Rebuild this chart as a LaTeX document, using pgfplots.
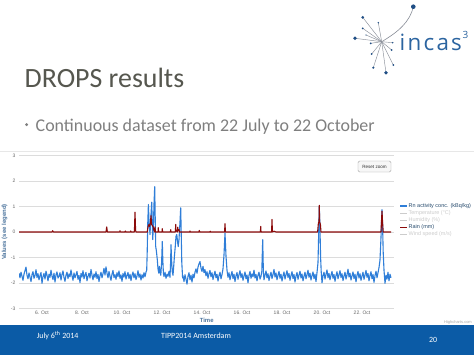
\documentclass[border=0pt]{standalone}
\usepackage{fontspec}
\setmainfont{Carlito}
\newfontfamily\chartfont{Liberation Sans}
\newfontfamily\logofont[LetterSpace=10]{Open Sans}
\newfontfamily\logofontb{Open Sans}
\usepackage{pgfplots}
\pgfplotsset{compat=1.18}
\definecolor{hcblue}{HTML}{2F7ED8}
\definecolor{hcred}{HTML}{8B0A0A}
\definecolor{gridc}{HTML}{DCDCDC}
\definecolor{tickc}{HTML}{666666}
\definecolor{axtitle}{HTML}{4D759E}
\definecolor{legact}{HTML}{274B6D}
\definecolor{leghid}{HTML}{CCCCCC}
\definecolor{titlec}{HTML}{56574F}
\definecolor{bulletc}{HTML}{7F7F7F}
\definecolor{footc}{HTML}{0B5BA6}
\definecolor{logoc}{HTML}{2B64A0}
\definecolor{logodot}{HTML}{1F4E85}
\definecolor{logoline}{HTML}{8A8F99}
\begin{document}
\begin{tikzpicture}
\useasboundingbox (0,0) rectangle (474bp,-355bp);
\clip (0,0) rectangle (474bp,-355bp);
\begin{scope}[x=1bp,y=-1bp]
\fill[white] (0,0) rectangle (474,355);
% title and bullet
\node[anchor=base west, inner sep=0pt, text=titlec, font=\fontsize{28}{32}\selectfont] at (24.5,87.3) {DROPS results};
\fill[bulletc] (26.6,124.6) circle (1.6);
\node[anchor=base west, inner sep=0pt, text=bulletc, font=\fontsize{18}{22}\selectfont] at (35.5,131) {Continuous dataset from 22 July to 22 October};
% logo
\foreach \px/\py in {362.7/17.3,378.3/22.7,362.7/28.3,355/38.3,370.7/43.3,392.7/42.7,391.7/50,371.7/54,373.3/67.7,386/72.7,393.3/65,366/35}
  \draw[logoline, line width=0.45bp] (381.7,41.7) -- (\px,\py);
\draw[logoline, line width=0.6bp] (381.7,41.7) .. controls (398,32) and (410,22) .. (413.3,6.7);
\fill[logodot] (413.3,6.7) circle (2.3);
\fill[logodot] (362.7,17.3) circle (1.5);
\fill[logodot] (378.3,22.7) circle (0.8);
\fill[logodot] (362.7,28.3) circle (1.0);
\fill[logodot] (355,38.3) circle (1.9);
\fill[logodot] (370.7,43.3) circle (1.0);
\fill[logodot] (392.7,42.7) circle (0.8);
\fill[logodot] (391.7,50) circle (1.0);
\fill[logodot] (371.7,54) circle (1.0);
\fill[logodot] (373.3,67.7) circle (1.2);
\fill[logodot] (386,72.7) circle (1.9);
\fill[logodot] (393.3,65) circle (1.0);
\fill[logodot] (366,35) circle (0.7);
\node[anchor=base west, inner sep=0pt, text=logoc, font=\logofont\fontsize{22.5}{24}\selectfont] at (399.5,50.7) {incas};
\node[anchor=base west, inner sep=0pt, text=logoc, font=\logofontb\fontsize{10}{12}\selectfont] at (462.5,38) {3};
% chart container line
\draw[gridc!70, line width=0.5bp] (0,151.7) -- (474,151.7);
% reset zoom button
\draw[rounded corners=1.5bp, fill=black!3, draw=black!35, line width=0.4bp] (358,161) rectangle (391,172);
\node[inner sep=0pt, text=black!80, font=\chartfont\fontsize{4.6}{5}\selectfont] at (374.5,166.6) {Reset zoom};
% axis titles
\node[rotate=90, inner sep=0pt, text=axtitle, font=\chartfont\bfseries\fontsize{6}{7}\selectfont] at (4.5,232) {Values (see legend)};
\node[inner sep=0pt, text=axtitle, font=\chartfont\bfseries\fontsize{6}{7}\selectfont] at (206.7,320.7) {Time};
% legend
\draw[hcblue, line width=1.2bp] (400,206) -- (406.5,206);
\node[anchor=west, inner sep=0pt, text=legact, font=\chartfont\fontsize{5.5}{6}\selectfont] at (408.5,206) {Rn activity conc. (kBq/kg)};
\draw[leghid, line width=1.2bp] (400,213.1) -- (406.5,213.1);
\node[anchor=west, inner sep=0pt, text=leghid, font=\chartfont\fontsize{5.5}{6}\selectfont] at (408.5,213.1) {Temperature (°C)};
\draw[leghid, line width=1.2bp] (400,220.2) -- (406.5,220.2);
\node[anchor=west, inner sep=0pt, text=leghid, font=\chartfont\fontsize{5.5}{6}\selectfont] at (408.5,220.2) {Humidity (\%)};
\draw[hcred, line width=1.2bp] (400,227.3) -- (406.5,227.3);
\node[anchor=west, inner sep=0pt, text=legact, font=\chartfont\fontsize{5.5}{6}\selectfont] at (408.5,227.3) {Rain (mm)};
\draw[leghid, line width=1.2bp] (400,234.4) -- (406.5,234.4);
\node[anchor=west, inner sep=0pt, text=leghid, font=\chartfont\fontsize{5.5}{6}\selectfont] at (408.5,234.4) {Wind speed (m/s)};
% footer
\fill[footc] (0,325) rectangle (474,355);
\node[anchor=base east, inner sep=0pt, text=black!35, font=\chartfont\fontsize{4}{5}\selectfont] at (472,323.5) {Highcharts.com};
\node[anchor=base west, inner sep=0pt, text=white, font=\fontsize{8}{10}\selectfont] at (36.7,338) {July 6\textsuperscript{th} 2014};
\node[anchor=base west, inner sep=0pt, text=white, font=\fontsize{8}{10}\selectfont] at (161,338) {TIPP2014 Amsterdam};
\node[anchor=base west, inner sep=0pt, text=white, font=\fontsize{8}{10}\selectfont] at (429,342) {20};
\end{scope}
\begin{axis}[
  at={(19bp,-308.3bp)}, anchor=south west,
  scale only axis, width=375bp, height=152.6bp,
  xmin=4.85, xmax=23.6, ymin=-3, ymax=3,
  axis line style={draw=none},
  ymajorgrids, grid style={draw=gridc, line width=0.5bp},
  ytick={-3,-2,-1,0,1,2,3}, yticklabels={-3,-2,-1,0,1,2,3},
  xtick={6,8,10,12,14,16,18,20,22},
  xticklabels={6. Oct,8. Oct,10. Oct,12. Oct,14. Oct,16. Oct,18. Oct,20. Oct,22. Oct},
  major tick length=0pt,
  tick label style={font=\chartfont\fontsize{5}{6}\selectfont, text=tickc},
  yticklabel style={anchor=east, inner sep=0pt, xshift=-3.5bp},
  xticklabel style={anchor=north, inner sep=0pt, yshift=-2.3bp},
]
\addplot[color=hcblue, line width=1.1bp, line join=round, mark=none] coordinates {
(4.85,-1.62)(4.90,-1.80)(4.95,-1.58)(5.00,-1.74)(5.05,-1.90)(5.10,-1.66)(5.15,-1.52)(5.20,-1.38)(5.25,-1.70)(5.30,-1.84)
(5.35,-1.61)(5.40,-1.77)(5.45,-1.95)(5.50,-1.68)(5.55,-1.56)(5.60,-1.82)(5.65,-1.71)(5.70,-1.48)(5.75,-1.79)(5.80,-1.64)
(5.85,-1.88)(5.90,-1.72)(5.95,-1.59)(6.00,-2.02)(6.05,-1.75)(6.10,-1.63)(6.15,-1.85)(6.20,-1.54)(6.25,-1.70)(6.30,-1.92)
(6.35,-1.66)(6.40,-1.78)(6.45,-1.50)(6.50,-1.73)(6.55,-1.87)(6.60,-1.62)(6.65,-1.97)(6.70,-1.69)(6.75,-1.57)(6.80,-1.81)
(6.85,-1.74)(6.90,-1.60)(6.95,-1.89)(7.00,-1.67)(7.05,-1.53)(7.10,-1.79)(7.15,-1.94)(7.20,-1.70)(7.25,-1.58)(7.30,-1.83)
(7.35,-1.65)(7.40,-1.76)(7.45,-1.49)(7.50,-1.72)(7.55,-1.90)(7.60,-1.61)(7.65,-1.80)(7.70,-1.68)(7.75,-1.55)(7.80,-1.86)
(7.85,-1.71)(7.90,-1.99)(7.95,-1.63)(8.00,-1.77)(8.05,-1.52)(8.10,-1.84)(8.15,-1.69)(8.20,-1.59)(8.25,-1.92)(8.30,-1.74)
(8.35,-1.62)(8.40,-1.81)(8.45,-1.47)(8.50,-1.70)(8.55,-1.88)(8.60,-1.65)(8.65,-1.78)(8.70,-1.56)(8.75,-1.83)(8.80,-1.67)
(8.85,-1.95)(8.90,-1.72)(8.95,-1.58)(9.00,-1.80)(9.05,-1.64)(9.10,-1.43)(9.15,-1.69)(9.20,-1.37)(9.25,-1.62)(9.30,-1.80)
(9.35,-1.55)(9.40,-1.74)(9.45,-1.90)(9.50,-1.66)(9.55,-1.51)(9.60,-1.79)(9.65,-1.68)(9.70,-1.86)(9.75,-1.60)(9.80,-1.75)
(9.85,-1.53)(9.90,-1.82)(9.95,-1.69)(10.00,-1.94)(10.05,-1.63)(10.10,-1.77)(10.15,-1.56)(10.20,-1.85)(10.25,-1.71)(10.30,-1.59)
(10.35,-1.83)(10.40,-1.66)(10.45,-1.91)(10.50,-1.70)(10.55,-1.57)(10.60,-1.80)(10.65,-1.64)(10.70,-1.87)(10.75,-1.73)(10.80,-1.52)
(10.85,-1.78)(10.90,-1.65)(10.95,-1.89)(11.00,-1.68)(11.05,-1.81)(11.10,-1.60)(11.15,-1.76)(11.20,-1.58)
(11.235,-1.50)(11.26,-0.80)(11.29,0.40)(11.32,1.08)(11.35,0.45)(11.40,-0.10)(11.44,0.55)(11.485,1.17)(11.51,0.50)(11.535,-0.30)
(11.57,0.20)(11.60,1.10)(11.635,1.78)(11.66,0.60)(11.685,-0.57)(11.72,-0.75)(11.765,-1.09)(11.80,-1.45)(11.84,-1.62)(11.87,-1.35)
(11.90,-1.55)(11.94,-1.70)(11.98,-1.20)(12.015,-0.37)(12.04,-1.10)(12.07,-1.62)(12.10,-1.75)(12.15,-1.58)(12.20,-1.82)(12.25,-1.66)
(12.30,-1.74)(12.35,-1.55)(12.40,-1.78)(12.43,-1.20)(12.45,-0.50)(12.48,-1.10)(12.51,-1.55)(12.55,-1.70)(12.58,-1.40)(12.62,-0.96)
(12.66,-0.60)(12.70,-0.17)(12.74,-0.10)(12.78,-0.40)(12.81,-0.57)(12.85,-0.30)(12.90,0.40)(12.935,0.95)(12.96,0.00)(12.99,-1.20)
(13.03,-1.80)
(13.05,-1.72)(13.10,-1.95)(13.15,-1.68)(13.20,-1.85)(13.25,-2.05)(13.30,-1.74)(13.35,-1.60)(13.40,-1.88)(13.45,-1.70)(13.50,-1.97)
(13.55,-1.66)(13.60,-1.80)(13.65,-1.58)(13.70,-1.45)(13.75,-1.62)(13.80,-1.38)(13.85,-1.25)(13.90,-1.16)(13.95,-1.42)(14.00,-1.55)
(14.05,-1.35)(14.10,-1.60)(14.15,-1.48)(14.20,-1.72)(14.25,-1.56)(14.30,-1.82)(14.35,-1.64)(14.40,-1.51)(14.45,-1.76)(14.50,-1.60)
(14.55,-1.87)(14.60,-1.69)(14.65,-1.54)(14.70,-1.80)(14.75,-1.66)(14.80,-1.93)(14.85,-1.71)(14.90,-1.58)(14.95,-1.84)(15.00,-1.67)
(15.05,-1.45)(15.10,-0.90)(15.15,-0.04)(15.20,-0.95)(15.25,-1.50)(15.30,-1.78)(15.35,-1.60)(15.40,-1.88)(15.45,-1.70)(15.50,-1.55)
(15.55,-1.83)(15.60,-1.66)(15.65,-1.95)(15.70,-1.72)(15.75,-1.59)(15.80,-1.86)(15.85,-1.68)(15.90,-1.52)(15.95,-1.79)(16.00,-1.64)
(16.05,-1.90)(16.10,-1.73)(16.15,-1.57)(16.20,-1.84)(16.25,-1.69)(16.30,-2.00)(16.35,-1.71)(16.40,-1.55)(16.45,-1.82)(16.50,-1.65)
(16.55,-1.76)(16.60,-1.50)(16.65,-1.81)(16.70,-1.67)(16.75,-1.92)(16.80,-1.70)(16.85,-1.58)(16.90,-1.85)(16.95,-1.74)(16.99,-1.55)
(17.035,-0.30)(17.07,-1.60)(17.10,-1.88)(17.15,-1.69)(17.20,-1.53)(17.25,-1.80)(17.30,-1.64)(17.35,-1.91)(17.40,-1.72)(17.45,-1.58)
(17.50,-1.83)(17.55,-1.67)(17.60,-1.47)(17.65,-1.77)(17.70,-1.61)(17.75,-1.88)(17.80,-1.70)(17.85,-1.55)(17.90,-1.82)(17.95,-1.66)
(18.00,-1.93)(18.05,-1.72)(18.10,-1.57)(18.15,-1.85)(18.20,-1.68)(18.25,-1.52)(18.30,-1.79)(18.35,-1.63)(18.40,-1.90)(18.45,-1.71)
(18.50,-1.56)(18.55,-1.83)(18.60,-1.67)(18.65,-1.97)(18.70,-1.73)(18.75,-1.59)(18.80,-1.86)(18.85,-1.69)(18.90,-1.54)(18.95,-1.81)
(19.00,-1.65)(19.05,-1.92)(19.10,-1.74)(19.15,-1.58)(19.20,-1.84)(19.25,-1.68)(19.30,-1.50)(19.35,-1.78)(19.40,-1.62)(19.45,-1.89)
(19.50,-1.71)(19.55,-1.57)(19.60,-1.83)(19.65,-1.66)(19.70,-1.95)(19.75,-1.60)(19.80,-1.20)(19.83,-0.20)(19.865,1.00)(19.90,0.10)
(19.93,-1.00)(19.96,-1.55)(20.00,-2.00)(20.05,-1.72)(20.10,-1.58)(20.15,-1.85)(20.20,-1.66)(20.25,-1.49)(20.30,-1.80)(20.35,-1.63)
(20.40,-1.88)(20.45,-1.70)(20.50,-1.55)(20.55,-1.82)(20.60,-1.67)(20.65,-1.94)(20.70,-1.71)(20.75,-1.56)(20.80,-1.84)(20.85,-1.68)
(20.90,-1.52)(20.95,-1.79)(21.00,-1.64)(21.05,-1.91)(21.10,-1.73)(21.15,-1.58)(21.20,-1.85)(21.25,-1.69)(21.30,-1.46)(21.35,-1.77)
(21.40,-1.62)(21.45,-1.89)(21.50,-1.72)(21.55,-1.57)(21.60,-1.83)(21.65,-1.66)(21.70,-1.96)(21.75,-1.70)(21.80,-1.55)(21.85,-1.81)
(21.90,-1.64)(21.95,-1.90)(22.00,-1.73)(22.05,-1.58)(22.10,-1.86)(22.15,-1.69)(22.20,-1.51)(22.25,-1.78)(22.30,-1.63)(22.35,-1.92)
(22.40,-1.71)(22.45,-1.56)(22.50,-1.84)(22.55,-1.67)(22.60,-1.98)(22.65,-1.72)(22.70,-1.54)(22.75,-1.80)(22.80,-1.60)(22.85,-1.40)
(22.90,-1.10)(22.95,-0.20)(23.00,0.88)(23.03,0.20)(23.06,-0.80)(23.10,-1.50)(23.15,-2.02)(23.20,-1.70)(23.25,-1.85)(23.30,-1.58)
(23.35,-1.92)(23.40,-1.66)(23.45,-1.80)
};
\addplot[color=hcred, line width=1.1bp, line join=round, mark=none] coordinates {
(4.85,0)(6.50,0)(6.535,0.05)(6.57,0)(9.20,0)(9.235,0.20)(9.27,0)(9.88,0)(9.90,0.05)(9.92,0)
(10.15,0)(10.17,0.04)(10.19,0)(10.42,0)(10.435,0.04)(10.45,0)(10.62,0)(10.65,0.78)(10.68,0.05)(10.70,0)
(11.26,0)(11.30,0.20)(11.34,0.29)(11.38,0.22)(11.42,0.35)(11.45,0.64)(11.48,0.30)(11.52,0.25)(11.56,0.20)(11.60,0.05)
(11.63,0)(11.65,0.20)(11.67,0)(11.80,0)(11.815,0.17)(11.83,0)(12.00,0)(12.015,0.13)(12.03,0)
(12.42,0)(12.435,0.09)(12.45,0)(12.67,0)(12.685,0.30)(12.70,0.05)(12.77,0)(12.785,0.19)(12.80,0.05)(12.85,0.10)(12.87,0)
(13.39,0)(13.40,0.04)(13.41,0)(13.85,0)(13.865,0.06)(13.88,0)(14.40,0)(14.41,0.03)(14.42,0)
(15.13,0)(15.15,0.33)(15.17,0)(16.92,0)(16.935,0.22)(16.95,0)(17.48,0)(17.50,0.49)(17.52,0)(17.60,0.03)(17.70,0)
(19.78,0)(19.82,0.35)(19.85,0.40)(19.865,1.05)(19.88,0.40)(19.92,0.30)(19.95,0)
(22.95,0)(22.97,0.36)(23.00,0.82)(23.03,0.36)(23.06,0)(23.45,0)
};
\end{axis}
\end{tikzpicture}
\end{document}
